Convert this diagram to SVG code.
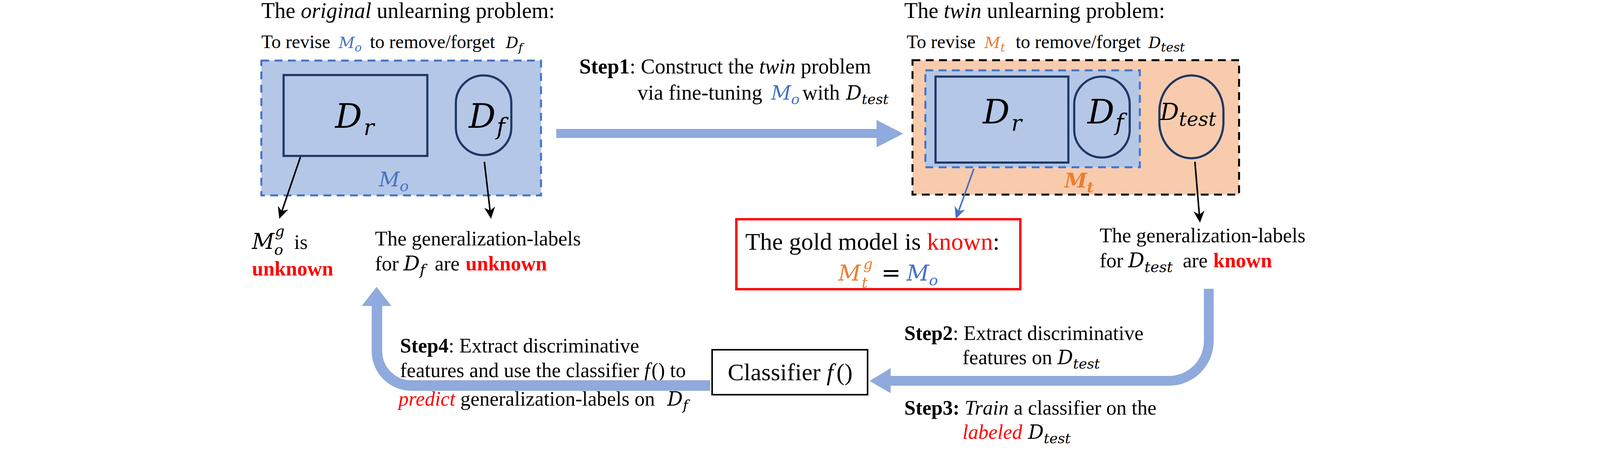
<svg xmlns="http://www.w3.org/2000/svg" width="4128" height="1172" viewBox="0 0 4128 1172">
<style>
text { font-family: "Liberation Serif", "Times New Roman", serif; fill: #000; }
.mt { font-family: "DejaVu Serif", serif; font-style: italic; }
.it { font-style: italic; }
.b { font-weight: bold; }
.red { fill: #FF0000; }
.blue { fill: #4472C4; }
.org { fill: #ED7D31; }
.t56 { font-size: 56px; }
.t48 { font-size: 48px; }
.t52 { font-size: 52px; }
.t54 { font-size: 54px; }
.t62 { font-size: 62px; }
.bluebox { fill: #B4C7E7; stroke: #4472C4; stroke-width: 5; stroke-dasharray: 20 14; }
.orgbox { fill: #F8CBAD; stroke: #000; stroke-width: 5; stroke-dasharray: 20 14; }
.data { fill: none; stroke: #1F3864; stroke-width: 5.5; }
.thin { fill: none; stroke: #000; stroke-width: 4; }
.thinblue { fill: none; stroke: #4472C4; stroke-width: 4; }
.flow { fill: none; stroke: #8FAADC; }
.flowhead { fill: #8FAADC; }
</style>
<defs>
<marker id="ah" markerUnits="userSpaceOnUse" viewBox="-32 -16 40 32" markerWidth="40" markerHeight="32" refX="-6" refY="0" orient="auto">
<path d="M0,0 L-30,-14 L-21,0 L-30,14 Z" fill="#000"/>
</marker>
<marker id="ahb" markerUnits="userSpaceOnUse" viewBox="-32 -16 40 32" markerWidth="40" markerHeight="32" refX="-6" refY="0" orient="auto">
<path d="M0,0 L-30,-14 L-21,0 L-30,14 Z" fill="#4472C4"/>
</marker>
</defs>
<rect width="4128" height="1172" fill="#fff"/>

<g id="original-problem">
<text class="t56" x="669" y="46">The <tspan class="it">original</tspan> unlearning problem:</text>
<text class="t48" y="123"><tspan x="669">To revise </tspan><tspan class="mt blue" x="867" font-size="40">M</tspan><tspan class="mt blue" font-size="30" y="132">o</tspan><tspan x="947" y="123">to remove/forget </tspan><tspan class="mt" x="1295" font-size="40">D</tspan><tspan class="mt" font-size="30" y="132">f</tspan></text>
<rect class="bluebox" x="669" y="155" width="716" height="345"/>
<text class="mt blue" x="970" y="477" font-size="52">M<tspan font-size="38" y="489">o</tspan></text>
</g>

<g id="original-Dr">
<rect class="data" x="726" y="192" width="368" height="207"/>
<text class="mt" x="858" y="327" font-size="86">D<tspan font-size="56" dx="4" y="345">r</tspan></text>
</g>

<g id="original-Df">
<rect class="data" x="1167" y="193" width="142" height="204" rx="71" ry="71"/>
<text class="mt" x="1200" y="327" font-size="86">D<tspan font-size="60" dx="2" y="345">f</tspan></text>
</g>

<g id="label-Mog-unknown">
<text y="637"><tspan class="mt" x="645" font-size="56">M</tspan><tspan class="mt" x="704" y="604" font-size="38">g</tspan><tspan class="mt" x="702" y="652" font-size="38">o</tspan><tspan class="t52" x="753" y="637">is</tspan></text>
<text class="t52 b red" x="645" y="705">unknown</text>
</g>

<g id="label-Df-unknown">
<text class="t52" x="960" y="628">The generalization-labels</text>
<text class="t52" y="692"><tspan x="960">for </tspan><tspan class="mt" x="1033" font-size="52">D</tspan><tspan class="mt" font-size="38" y="703">f</tspan><tspan x="1113" y="692">are </tspan><tspan class="b red" x="1192">unknown</tspan></text>
</g>

<g id="step1-label">
<text class="t54" x="1483" y="188"><tspan class="b">Step1</tspan>: Construct the <tspan class="it">twin</tspan> problem</text>
<text class="t54" y="255"><tspan x="1632">via fine-tuning </tspan><tspan class="mt blue" x="1974" font-size="50">M</tspan><tspan class="mt blue" font-size="36" y="266">o</tspan><tspan x="2054" y="255">with </tspan><tspan class="mt" x="2166" font-size="50">D</tspan><tspan class="mt" font-size="36" y="266">test</tspan></text>
</g>

<g id="twin-problem">
<text class="t56" x="2315" y="46">The <tspan class="it">twin</tspan> unlearning problem:</text>
<text class="t48" y="123"><tspan x="2321">To revise </tspan><tspan class="mt org" x="2520" font-size="40">M</tspan><tspan class="mt org" font-size="30" y="132">t</tspan><tspan x="2600" y="123">to remove/forget </tspan><tspan class="mt" x="2940" font-size="40">D</tspan><tspan class="mt" font-size="32" y="132">test</tspan></text>
<rect class="orgbox" x="2336" y="154" width="836" height="344"/>
<rect class="bluebox" x="2369" y="180" width="549" height="248"/>
<text class="mt org b" x="2725" y="480" font-size="52">M<tspan font-size="38" y="492">t</tspan></text>
</g>

<g id="twin-Dr">
<rect class="data" x="2395" y="196" width="340" height="220"/>
<text class="mt" x="2516" y="316" font-size="86">D<tspan font-size="56" dx="4" y="334">r</tspan></text>
</g>

<g id="twin-Df">
<rect class="data" x="2750" y="196" width="142" height="207" rx="71" ry="71"/>
<text class="mt" x="2784" y="316" font-size="86">D<tspan font-size="60" dx="2" y="334">f</tspan></text>
</g>

<g id="twin-Dtest">
<rect class="data" x="2968" y="193" width="164" height="212" rx="82" ry="92"/>
<text class="mt" x="2970" y="307" font-size="60">D<tspan font-size="50" y="322">test</tspan></text>
</g>

<g id="gold-model">
<rect x="1885" y="561" width="727" height="179" fill="#fff" stroke="#FF0000" stroke-width="6"/>
<text class="t62" x="1908" y="639">The gold model is <tspan class="red">known</tspan>:</text>
<text y="718"><tspan class="mt org" x="2146" font-size="56">M</tspan><tspan class="mt org" x="2210" y="688" font-size="38">g</tspan><tspan class="mt org" x="2206" y="736" font-size="38">t</tspan><tspan x="2256" y="718" font-size="60" font-family="DejaVu Serif, serif">=</tspan><tspan class="mt blue" x="2321" font-size="56">M</tspan><tspan class="mt blue" font-size="38" y="730">o</tspan></text>
</g>

<g id="label-Dtest-known">
<text class="t52" x="2815" y="620">The generalization-labels</text>
<text class="t52" y="684"><tspan x="2815">for </tspan><tspan class="mt" x="2888" font-size="52">D</tspan><tspan class="mt" font-size="38" y="696">test</tspan><tspan x="3028" y="684">are </tspan><tspan class="b red" x="3106">known</tspan></text>
</g>

<g id="step2-label">
<text class="t52" x="2315" y="870"><tspan class="b">Step2</tspan>: Extract discriminative</text>
<text class="t52" y="932"><tspan x="2464">features on </tspan><tspan class="mt" x="2707" font-size="50">D</tspan><tspan class="mt" font-size="36" y="943">test</tspan></text>
</g>

<g id="step3-label">
<text class="t52" x="2315" y="1061"><tspan class="b">Step3:</tspan> <tspan class="it">Train</tspan> a classifier on the</text>
<text class="t52" y="1123"><tspan class="it red" x="2464">labeled</tspan><tspan class="mt" x="2632" font-size="50">D</tspan><tspan class="mt" font-size="36" y="1134">test</tspan></text>
</g>

<g id="classifier">
<rect x="1823" y="895" width="398" height="115" fill="#fff" stroke="#000" stroke-width="4"/>
<text class="t62" x="1863" y="973">Classifier <tspan class="it">f</tspan><tspan dx="8">()</tspan></text>
</g>

<g id="step4-label">
<text class="t52" x="1024" y="902"><tspan class="b">Step4</tspan>: Extract discriminative</text>
<text class="t52" x="1024" y="965">features and use the classifier <tspan class="it">f</tspan><tspan dx="4">() to</tspan></text>
<text class="t52" y="1038"><tspan class="it red" x="1020">predict</tspan><tspan> generalization-labels on </tspan><tspan class="mt" x="1708" font-size="50">D</tspan><tspan class="mt" font-size="36" y="1049">f</tspan></text>
</g>

<g id="connectors">
<line class="thin" x1="769" y1="402" x2="716.9" y2="554.3" marker-end="url(#ah)"/>
<line class="thin" x1="1240" y1="414" x2="1256.3" y2="554" marker-end="url(#ah)"/>
<line class="thinblue" x1="2493" y1="432" x2="2449" y2="554.4" marker-end="url(#ahb)"/>
<line class="thin" x1="3059" y1="414" x2="3071.5" y2="564" marker-end="url(#ah)"/>
<polygon class="flowhead" points="1424,330 2244,330 2244,307 2312,342 2244,377 2244,353 1424,353"/>
<path class="flow" stroke-width="25" d="M3094.5,739 L3094.5,872.5 A102,102 0 0 1 2992.5,974.5 L2279,974.5"/>
<polygon class="flowhead" points="2280,942 2226,975 2280,1006"/>
<path class="flow" stroke-width="27" d="M1818,986.5 L1053,986.5 A88,88 0 0 1 965,898.5 L965,782"/>
<polygon class="flowhead" points="926,783 964,734 1002,783"/>
</g>
</svg>
